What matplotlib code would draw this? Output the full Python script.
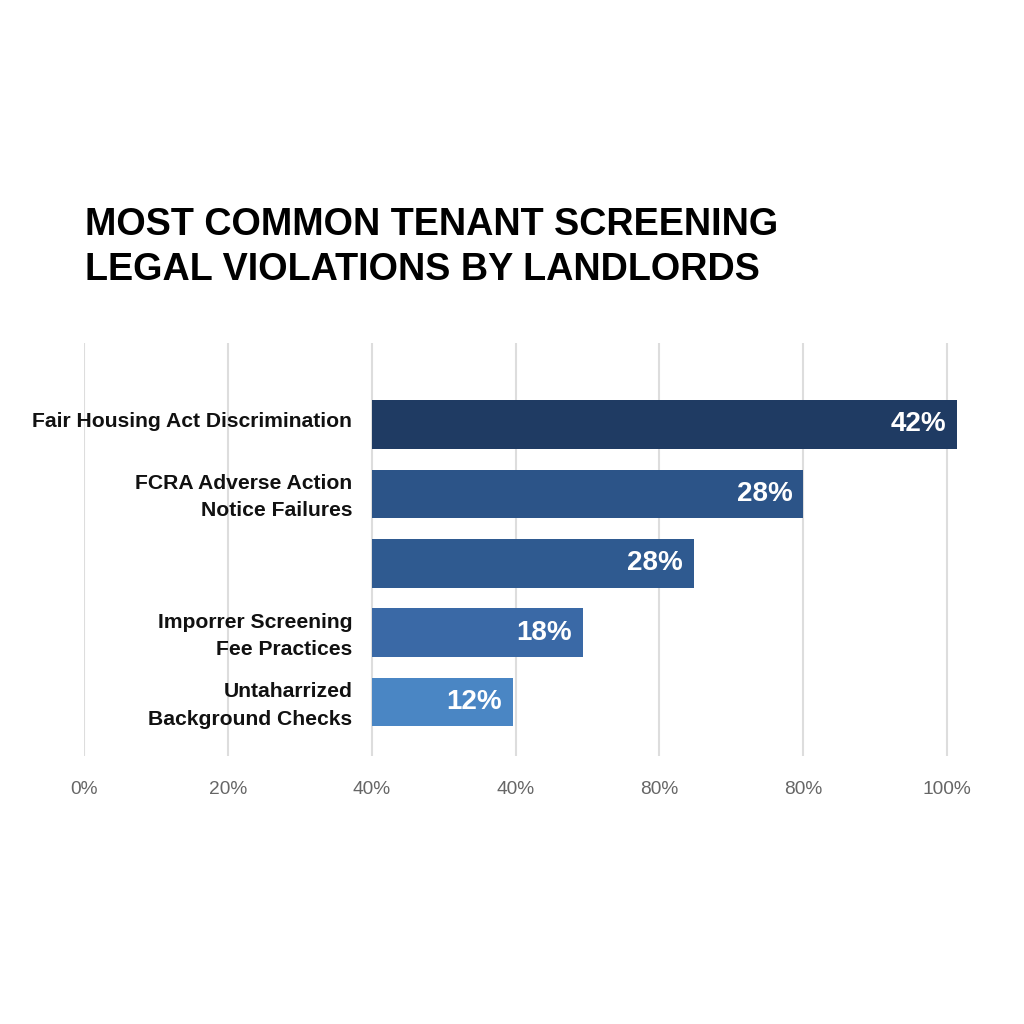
import matplotlib
matplotlib.use('Agg')
from matplotlib import pyplot as plt

plt.rcParams['font.family'] = ['Liberation Sans', 'DejaVu Sans']

# category labels (third bar has no label in the source)
labels = ['Fair Housing Act Discrimination',
          'FCRA Adverse Action\nNotice Failures',
          '',
          'Imporrer Screening\nFee Practices',
          'Untaharrized\nBackground Checks']
value_text = [42, 28, 28, 18, 12]
bar_start = 40
bar_end = [121.4, 100, 84.8, 69.4, 59.6]
colors = ['#1f3b63', '#2c5488', '#2f5a90', '#3a69a6', '#4a86c4']

tick_pos = [0, 20, 40, 60, 80, 100, 120]
tick_labels = ['0%', '20%', '40%', '40%', '80%', '80%', '100%']

fig = plt.figure(figsize=(10.24, 10.24), dpi=100)
ax = fig.add_axes([84 / 1024, 1 - 756 / 1024, 899 / 1024, (756 - 343) / 1024])

ypos = list(range(len(labels)))
widths = [e - bar_start for e in bar_end]
ax.barh(ypos, widths, left=bar_start, height=0.7, color=colors, zorder=2)

for y, lab, e, v in zip(ypos, labels, bar_end, value_text):
    # two-line labels sit a little lower than the bar centre in the source
    dy = 0.05 if '\n' in lab else -0.04
    ax.text(37.3, y + dy, lab, ha='right', va='center', fontsize=15.2,
            fontweight='bold', color='#111111', linespacing=1.55)
    ax.text(e - 1.5, y, f'{v}%', ha='right', va='center', fontsize=20,
            fontweight='bold', color='white', zorder=3)

ax.set_xlim(0, 125)
ax.set_ylim(4.778, -1.174)
ax.set_xticks(tick_pos)
ax.set_xticklabels(tick_labels, fontsize=13.8, color='#666666')
ax.set_yticks([])
ax.tick_params(axis='x', length=0, pad=18)
ax.grid(axis='x', color='#dddddd', linewidth=1.5, zorder=0)
for s in ax.spines.values():
    s.set_visible(False)

fig.text(85 / 1024, 1 - 235 / 1024, 'MOST COMMON TENANT SCREENING',
         fontsize=27.2, fontweight='bold', color='black', va='baseline')
fig.text(85 / 1024, 1 - 280 / 1024, 'LEGAL VIOLATIONS BY LANDLORDS',
         fontsize=27.2, fontweight='bold', color='black', va='baseline')

fig.savefig('out.png', dpi=100, facecolor='white')
